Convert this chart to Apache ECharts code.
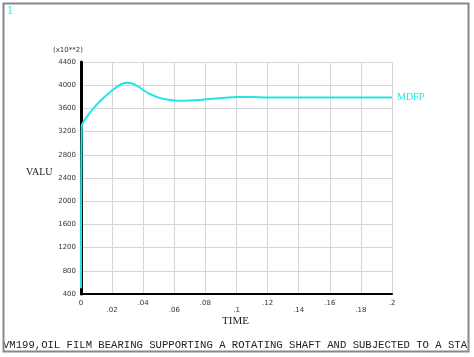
<!DOCTYPE html>
<html><head><meta charset="utf-8">
<script src="https://cdn.jsdelivr.net/npm/echarts@6/dist/echarts.min.js"></script>
<style>html,body{margin:0;padding:0;background:#fff}#c{width:474px;height:357px}</style>
</head><body><div id="c"></div>
<script>
const times = [0, 0.0005, 0.002, 0.005, 0.008, 0.012, 0.016, 0.02, 0.025, 0.029, 0.033, 0.037, 0.041, 0.045, 0.05, 0.055, 0.06, 0.065, 0.07, 0.075, 0.08, 0.09, 0.1, 0.11, 0.12, 0.14, 0.16, 0.18, 0.2];
const mdfp = [500, 3300, 3390, 3500, 3600, 3720, 3820, 3910, 4005, 4043, 4030, 3975, 3900, 3840, 3785, 3752, 3736, 3732, 3736, 3743, 3756, 3780, 3798, 3796, 3790, 3788, 3788, 3788, 3788];
const yTicks = [400, 800, 1200, 1600, 2000, 2400, 2800, 3200, 3600, 4000, 4400];
const xTicks = [0, 0.02, 0.04, 0.06, 0.08, 0.1, 0.12, 0.14, 0.16, 0.18, 0.2];
const seriesName = 'MDFP';
const yLabel = 'VALU', xLabel = 'TIME', multiplier = '(x10**2)';
const titleText = 'VM199,OIL FILM BEARING SUPPORTING A ROTATING SHAFT AND SUBJECTED TO A STATIC LOAD';

const cyan = '#22e6e6';
const chart = echarts.init(document.getElementById('c'), null, {renderer: 'canvas'});
function fmtX(v) {
  if (Math.abs(v) < 1e-9) return '0';
  return String(+v.toFixed(2)).replace(/^0/, '');
}
chart.setOption({
  animation: false,
  grid: {left: 81, right: 82, top: 62, bottom: 63},
  xAxis: {
    type: 'value', min: xTicks[0], max: xTicks[xTicks.length - 1], interval: 0.02,
    axisLine: {show: true, onZero: false, lineStyle: {color: '#000', width: 2}},
    axisTick: {show: false},
    splitLine: {show: true, lineStyle: {color: '#d6d6d6', width: 1}},
    axisLabel: {
      margin: 6, fontSize: 7, color: '#333', fontFamily: 'DejaVu Sans',
      formatter: function (v) {
        const i = Math.round(v / 0.02);
        return (i % 2 === 0 ? '{h|' : '{l|') + fmtX(v) + '}';
      },
      rich: {h: {fontSize: 7, color: '#333'}, l: {fontSize: 7, color: '#333', padding: [7, 0, 0, 0]}}
    }
  },
  yAxis: {
    type: 'value', min: yTicks[0], max: yTicks[yTicks.length - 1], interval: 400,
    axisLine: {show: true, lineStyle: {color: '#000', width: 3}},
    axisTick: {show: false},
    splitLine: {show: true, lineStyle: {color: '#d6d6d6', width: 1}},
    axisLabel: {margin: 5, fontSize: 7, color: '#333', fontFamily: 'DejaVu Sans', formatter: v => String(v)}
  },
  series: [{
    name: seriesName, type: 'line', showSymbol: false, smooth: 0.3,
    lineStyle: {color: cyan, width: 2},
    data: times.map((t, i) => [t, mdfp[i]]),
    endLabel: {show: true, formatter: seriesName, color: cyan, fontSize: 10, fontFamily: 'Liberation Serif', distance: 5}
  }],
  graphic: [
    {type: 'text', x: 7, y: 5, style: {text: '1', fill: cyan, font: '12px "Liberation Serif"'}},
    {type: 'text', x: 53, y: 47, style: {text: multiplier, fill: '#333', font: '7px "DejaVu Sans"'}},
    {type: 'text', x: 26, y: 167, style: {text: yLabel, fill: '#222', font: '10px "Liberation Serif"'}},
    {type: 'text', x: 222, y: 316, style: {text: xLabel, fill: '#222', font: '11px "Liberation Serif"'}},
    {type: 'text', x: 3, y: 340, z: 10, style: {text: titleText, fill: '#222', font: '10.6px "Liberation Mono"'}},
    {type: 'rect', z: 11, shape: {x: 469, y: 0, width: 10, height: 357}, style: {fill: '#fff'}},
    {type: 'rect', z: 12, shape: {x: 3.5, y: 3.5, width: 465, height: 348}, style: {fill: 'none', stroke: '#888', lineWidth: 2}}
  ]
});
</script></body></html>
